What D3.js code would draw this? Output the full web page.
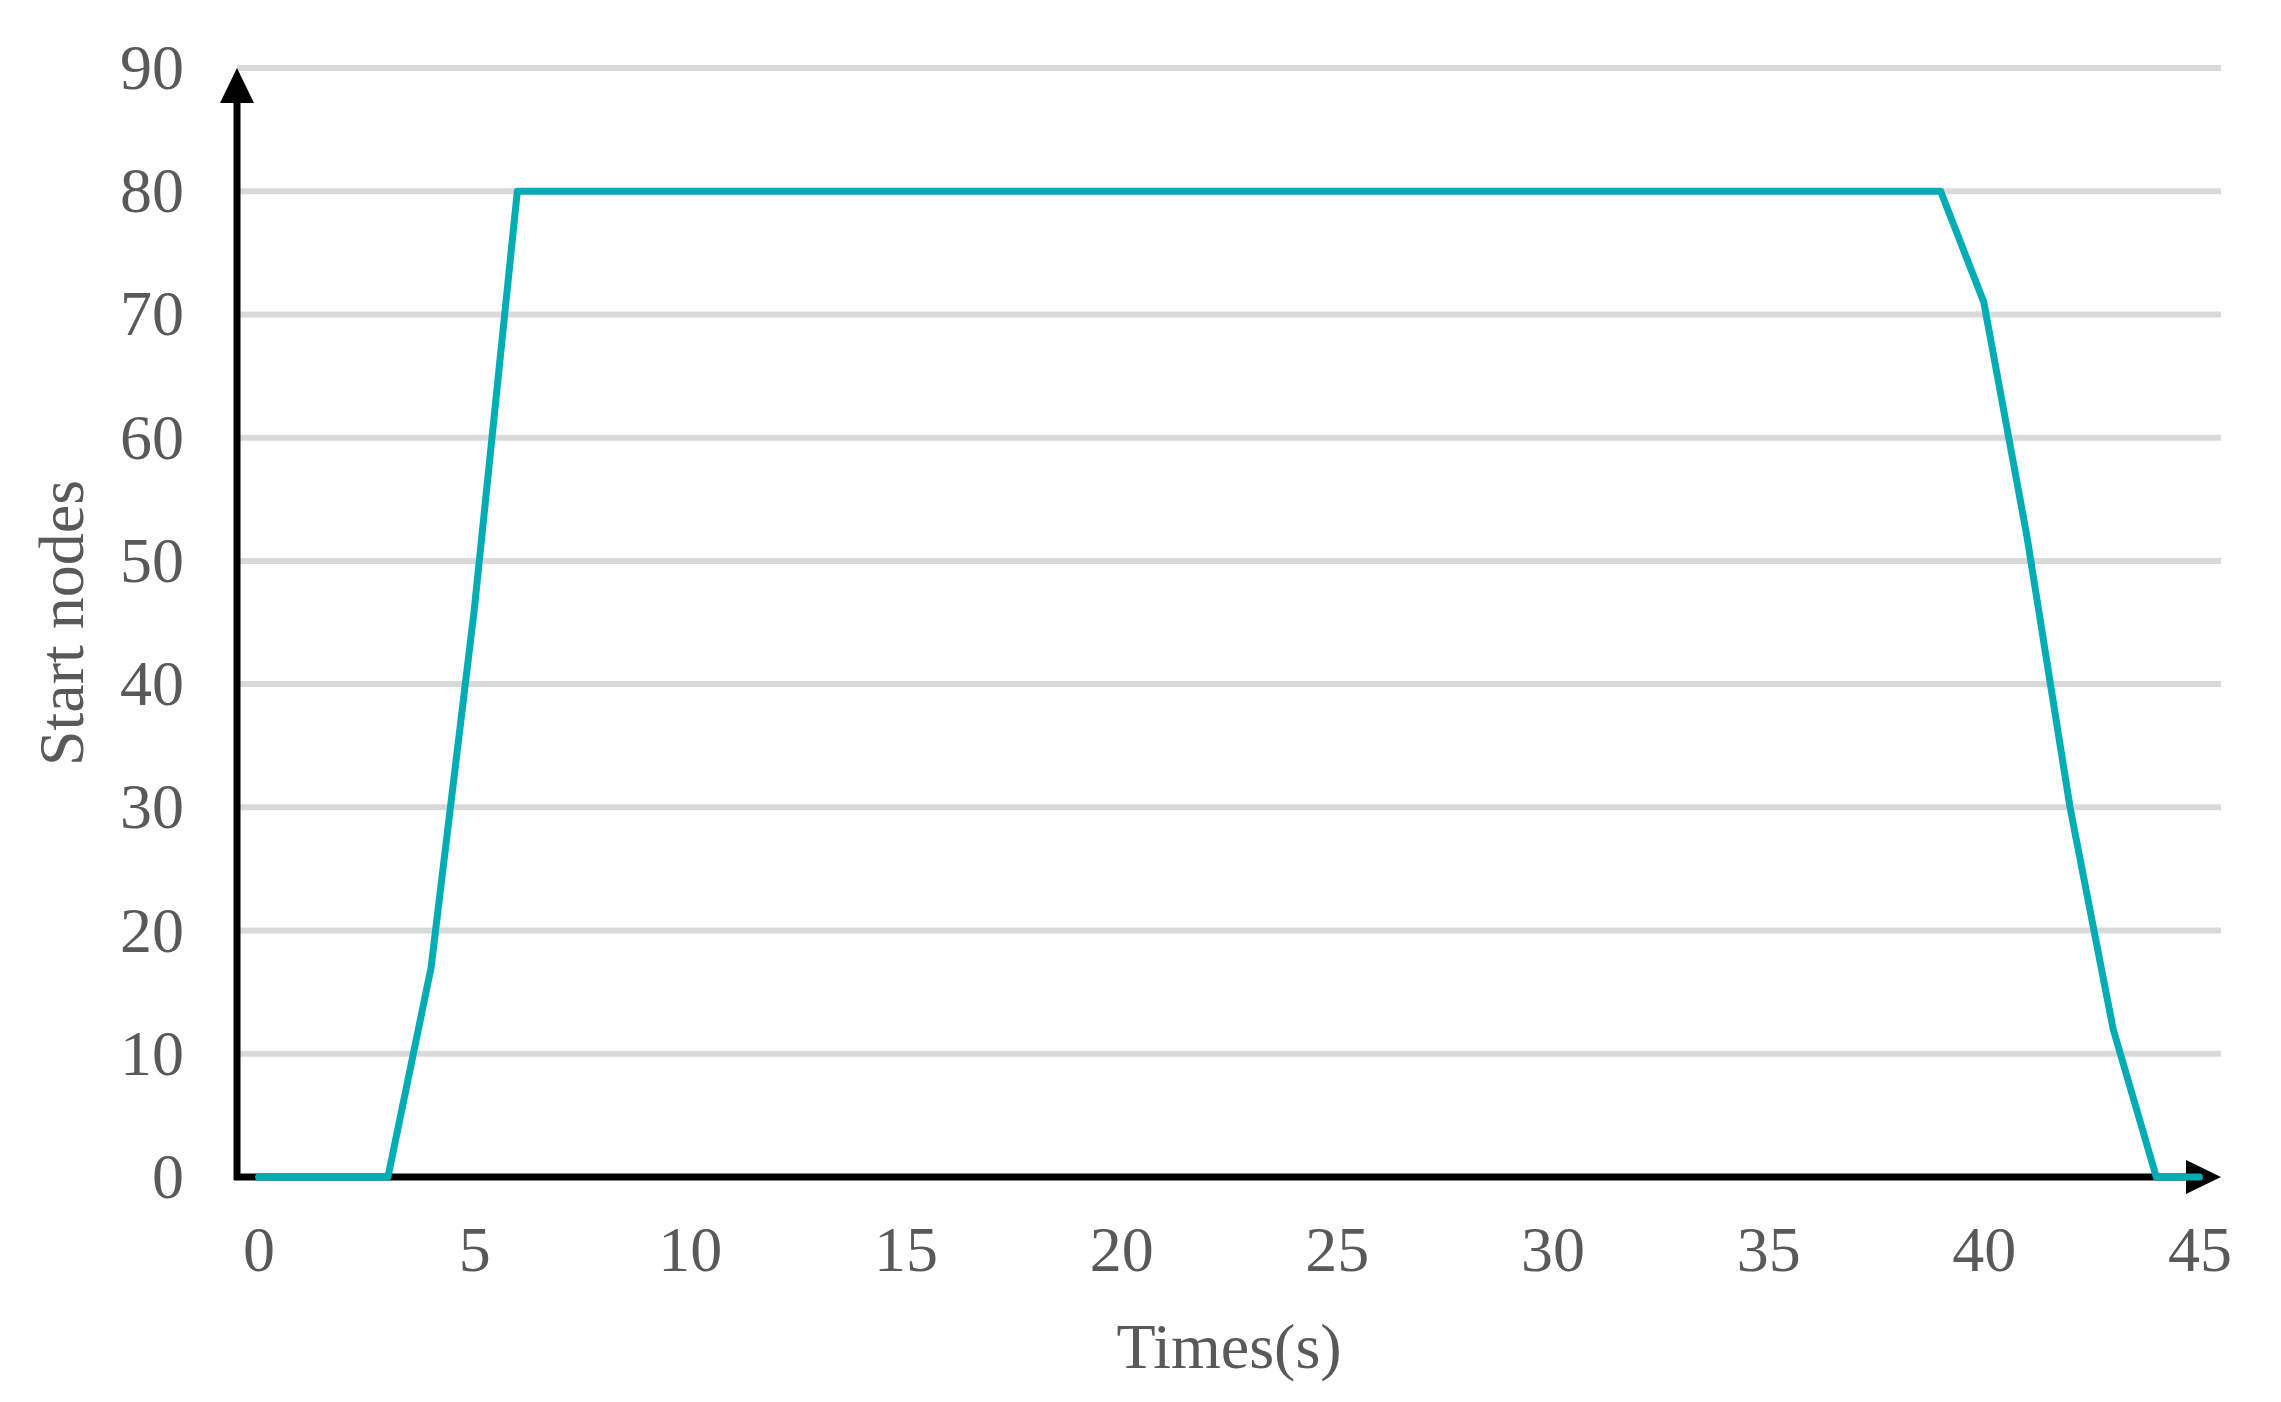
<!DOCTYPE html>
<html>
<head>
<meta charset="utf-8">
<script src="https://cdn.jsdelivr.net/npm/d3@7"></script>
<style>
  body { margin: 0; background: #fff; }
  text { font-family: 'Liberation Serif', 'Times New Roman', serif; fill: #595959; }
</style>
</head>
<body>
<div id="chart"></div>
<script>
// time in seconds and number of started nodes
const times = [0, 1, 2, 3, 4, 5, 6, 7, 8, 9, 10, 11, 12, 13, 14, 15, 16, 17, 18, 19, 20, 21, 22,
  23, 24, 25, 26, 27, 28, 29, 30, 31, 32, 33, 34, 35, 36, 37, 38, 39, 40, 41, 42, 43, 44, 45];
const startNodes = [0, 0, 0, 0, 17, 46, 80, 80, 80, 80, 80, 80, 80, 80, 80, 80, 80, 80, 80, 80, 80, 80, 80,
  80, 80, 80, 80, 80, 80, 80, 80, 80, 80, 80, 80, 80, 80, 80, 80, 80, 71, 52, 30, 12, 0, 0];
const xTicks = [0, 5, 10, 15, 20, 25, 30, 35, 40, 45];
const yTicks = [0, 10, 20, 30, 40, 50, 60, 70, 80, 90];

const w = 2281;
const h = 1402;
const plotLeft = 237, plotRight = 2221, plotTop = 68, plotBottom = 1177;
const fontSize = 64;
const lineColor = '#00adb5';

const svg = d3.select('#chart')
              .append('svg')
              .attr('width', w)
              .attr('height', h);

// #Scales
const xScale = d3.scaleLinear().domain([-0.5, 45.5]).range([plotLeft, plotRight]);
const yScale = d3.scaleLinear().domain([0, 90]).range([plotBottom, plotTop]);

// #Gridlines
svg.append('g')
   .selectAll('line')
   .data(yTicks.filter(d => d > 0))
   .enter()
   .append('line')
   .attr('x1', plotLeft)
   .attr('x2', plotRight)
   .attr('y1', d => yScale(d))
   .attr('y2', d => yScale(d))
   .attr('stroke', '#d9d9d9')
   .attr('stroke-width', 6);

// #Tick labels
const xAxis = d3.axisBottom(xScale).tickValues(xTicks).tickSize(0).tickPadding(49);
const yAxis = d3.axisLeft(yScale).tickValues(yTicks).tickSize(0).tickPadding(53);

const gx = svg.append('g')
              .attr('transform', 'translate(0,' + plotBottom + ')')
              .call(xAxis);
const gy = svg.append('g')
              .attr('transform', 'translate(' + plotLeft + ',0)')
              .call(yAxis);
[gx, gy].forEach(g => {
  g.select('.domain').remove();
  g.selectAll('text')
   .attr('fill', '#595959')
   .style('font-size', fontSize + 'px')
   .style('font-family', "'Liberation Serif', serif");
});

// #Axis lines with arrows
const arrowLen = 35, arrowHalf = 17;
svg.append('line')
   .attr('x1', plotLeft).attr('x2', plotLeft)
   .attr('y1', plotBottom + 3).attr('y2', plotTop + arrowLen)
   .attr('stroke', '#000').attr('stroke-width', 7);
svg.append('path')
   .attr('d', 'M' + plotLeft + ',' + plotTop + 'L' + (plotLeft - arrowHalf) + ',' + (plotTop + arrowLen) + 'L' + (plotLeft + arrowHalf) + ',' + (plotTop + arrowLen) + 'Z')
   .attr('fill', '#000');
svg.append('line')
   .attr('x1', plotLeft - 3).attr('x2', plotRight - arrowLen)
   .attr('y1', plotBottom).attr('y2', plotBottom)
   .attr('stroke', '#000').attr('stroke-width', 7);
svg.append('path')
   .attr('d', 'M' + plotRight + ',' + plotBottom + 'L' + (plotRight - arrowLen) + ',' + (plotBottom - arrowHalf) + 'L' + (plotRight - arrowLen) + ',' + (plotBottom + arrowHalf) + 'Z')
   .attr('fill', '#000');

// #Series line
const data = times.map((t, i) => ({ t: t, v: startNodes[i] }));
const line = d3.line()
               .x(d => xScale(d.t))
               .y(d => yScale(d.v));
svg.append('path')
   .datum(data)
   .attr('d', line)
   .attr('fill', 'none')
   .attr('stroke', lineColor)
   .attr('stroke-width', 7)
   .attr('stroke-linejoin', 'round')
   .attr('stroke-linecap', 'round');

// #Axis titles
svg.append('text')
   .attr('x', 1229)
   .attr('y', 1368)
   .attr('text-anchor', 'middle')
   .style('font-size', fontSize + 'px')
   .text('Times(s)');
svg.append('text')
   .attr('transform', 'translate(83,623) rotate(-90)')
   .attr('text-anchor', 'middle')
   .style('font-size', fontSize + 'px')
   .text('Start nodes');
</script>
</body>
</html>
